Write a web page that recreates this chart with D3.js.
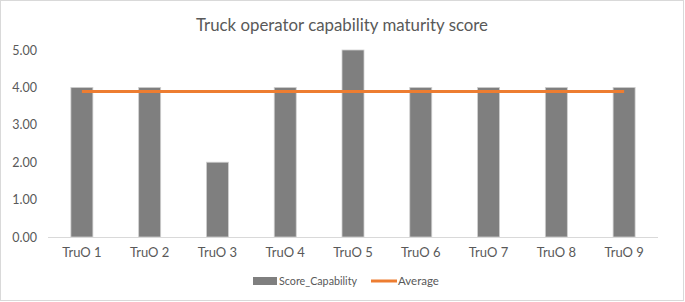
<!DOCTYPE html>
<html>
<head>
<meta charset="utf-8">
<script src="https://cdn.jsdelivr.net/npm/d3@7"></script>
<style>
  body { margin: 0; background: #fff; }
  text { font-family: Lato, "Open Sans", sans-serif; fill: #595959; }
</style>
</head>
<body>
<svg id="chart" width="685" height="302"></svg>
<script>
// chart data
var operators = ["TruO 1", "TruO 2", "TruO 3", "TruO 4", "TruO 5", "TruO 6", "TruO 7", "TruO 8", "TruO 9"];
var scores = [4, 4, 2, 4, 5, 4, 4, 4, 4];
var average = [3.89, 3.89, 3.89, 3.89, 3.89, 3.89, 3.89, 3.89, 3.89];
var yTicks = [0, 1, 2, 3, 4, 5];

var svg = d3.select("#chart");

// outer frame
svg.append("rect").attr("x", 0.5).attr("y", 0.5).attr("width", 683).attr("height", 300)
    .attr("fill", "#fff").attr("stroke", "#d9d9d9");

svg.append("text").attr("x", 196).attr("y", 31)
    .attr("textLength", 292).attr("lengthAdjust", "spacingAndGlyphs")
    .style("font-size", "18px").attr("fill", "#555")
    .text("Truck operator capability maturity score");

var scX = d3.scaleBand().domain(operators).range([48, 658]),
    scY = d3.scaleLinear().domain([0, 5]).range([237, 50]);

// y axis labels only
var yAxis = d3.axisLeft(scY).tickValues(yTicks).tickFormat(d3.format(".2f")).tickSize(0).tickPadding(0);
var gy = svg.append("g").attr("transform", "translate(37,0)").call(yAxis);
gy.select(".domain").remove();
gy.selectAll("text").style("font-size", "12.5px").attr("fill", "#595959");

// bars
var bw = 22;
svg.selectAll("rect.bar").data(scores).enter().append("rect").attr("class", "bar")
    .attr("x", (d, i) => scX(operators[i]) + scX.bandwidth() / 2 - bw / 2)
    .attr("width", bw)
    .attr("y", d => scY(d))
    .attr("height", d => scY(0) - scY(d))
    .attr("fill", "#7f7f7f").attr("stroke", "#d0d0d0").attr("stroke-width", 0.8);

// baseline
svg.append("line").attr("x1", 48).attr("x2", 658).attr("y1", scY(0) + 0.5).attr("y2", scY(0) + 0.5)
    .attr("stroke", "#d9d9d9");

// x axis labels
var xAxis = d3.axisBottom(scX).tickSize(0).tickPadding(11);
var gx = svg.append("g").attr("transform", "translate(0," + scY(0) + ")").call(xAxis);
gx.select(".domain").remove();
gx.selectAll("text").style("font-size", "13px").attr("fill", "#595959");

// average line
var line = d3.line().x((d, i) => scX(operators[i]) + scX.bandwidth() / 2).y(d => scY(d));
svg.append("path").datum(average).attr("d", line)
    .attr("fill", "none").attr("stroke", "#ed7d31").attr("stroke-width", 3);

// legend
var lg = svg.append("g").attr("transform", "translate(0,281)");
lg.append("rect").attr("x", 253).attr("y", -4).attr("width", 24).attr("height", 8).attr("fill", "#7f7f7f");
lg.append("text").attr("x", 279).attr("y", 4).attr("textLength", 78).attr("lengthAdjust", "spacingAndGlyphs")
    .style("font-size", "11.5px").text("Score_Capability");
lg.append("line").attr("x1", 371).attr("x2", 397).attr("y1", 0).attr("y2", 0)
    .attr("stroke", "#ed7d31").attr("stroke-width", 3);
lg.append("text").attr("x", 398).attr("y", 4).style("font-size", "11.5px").text("Average");
</script>
</body>
</html>
